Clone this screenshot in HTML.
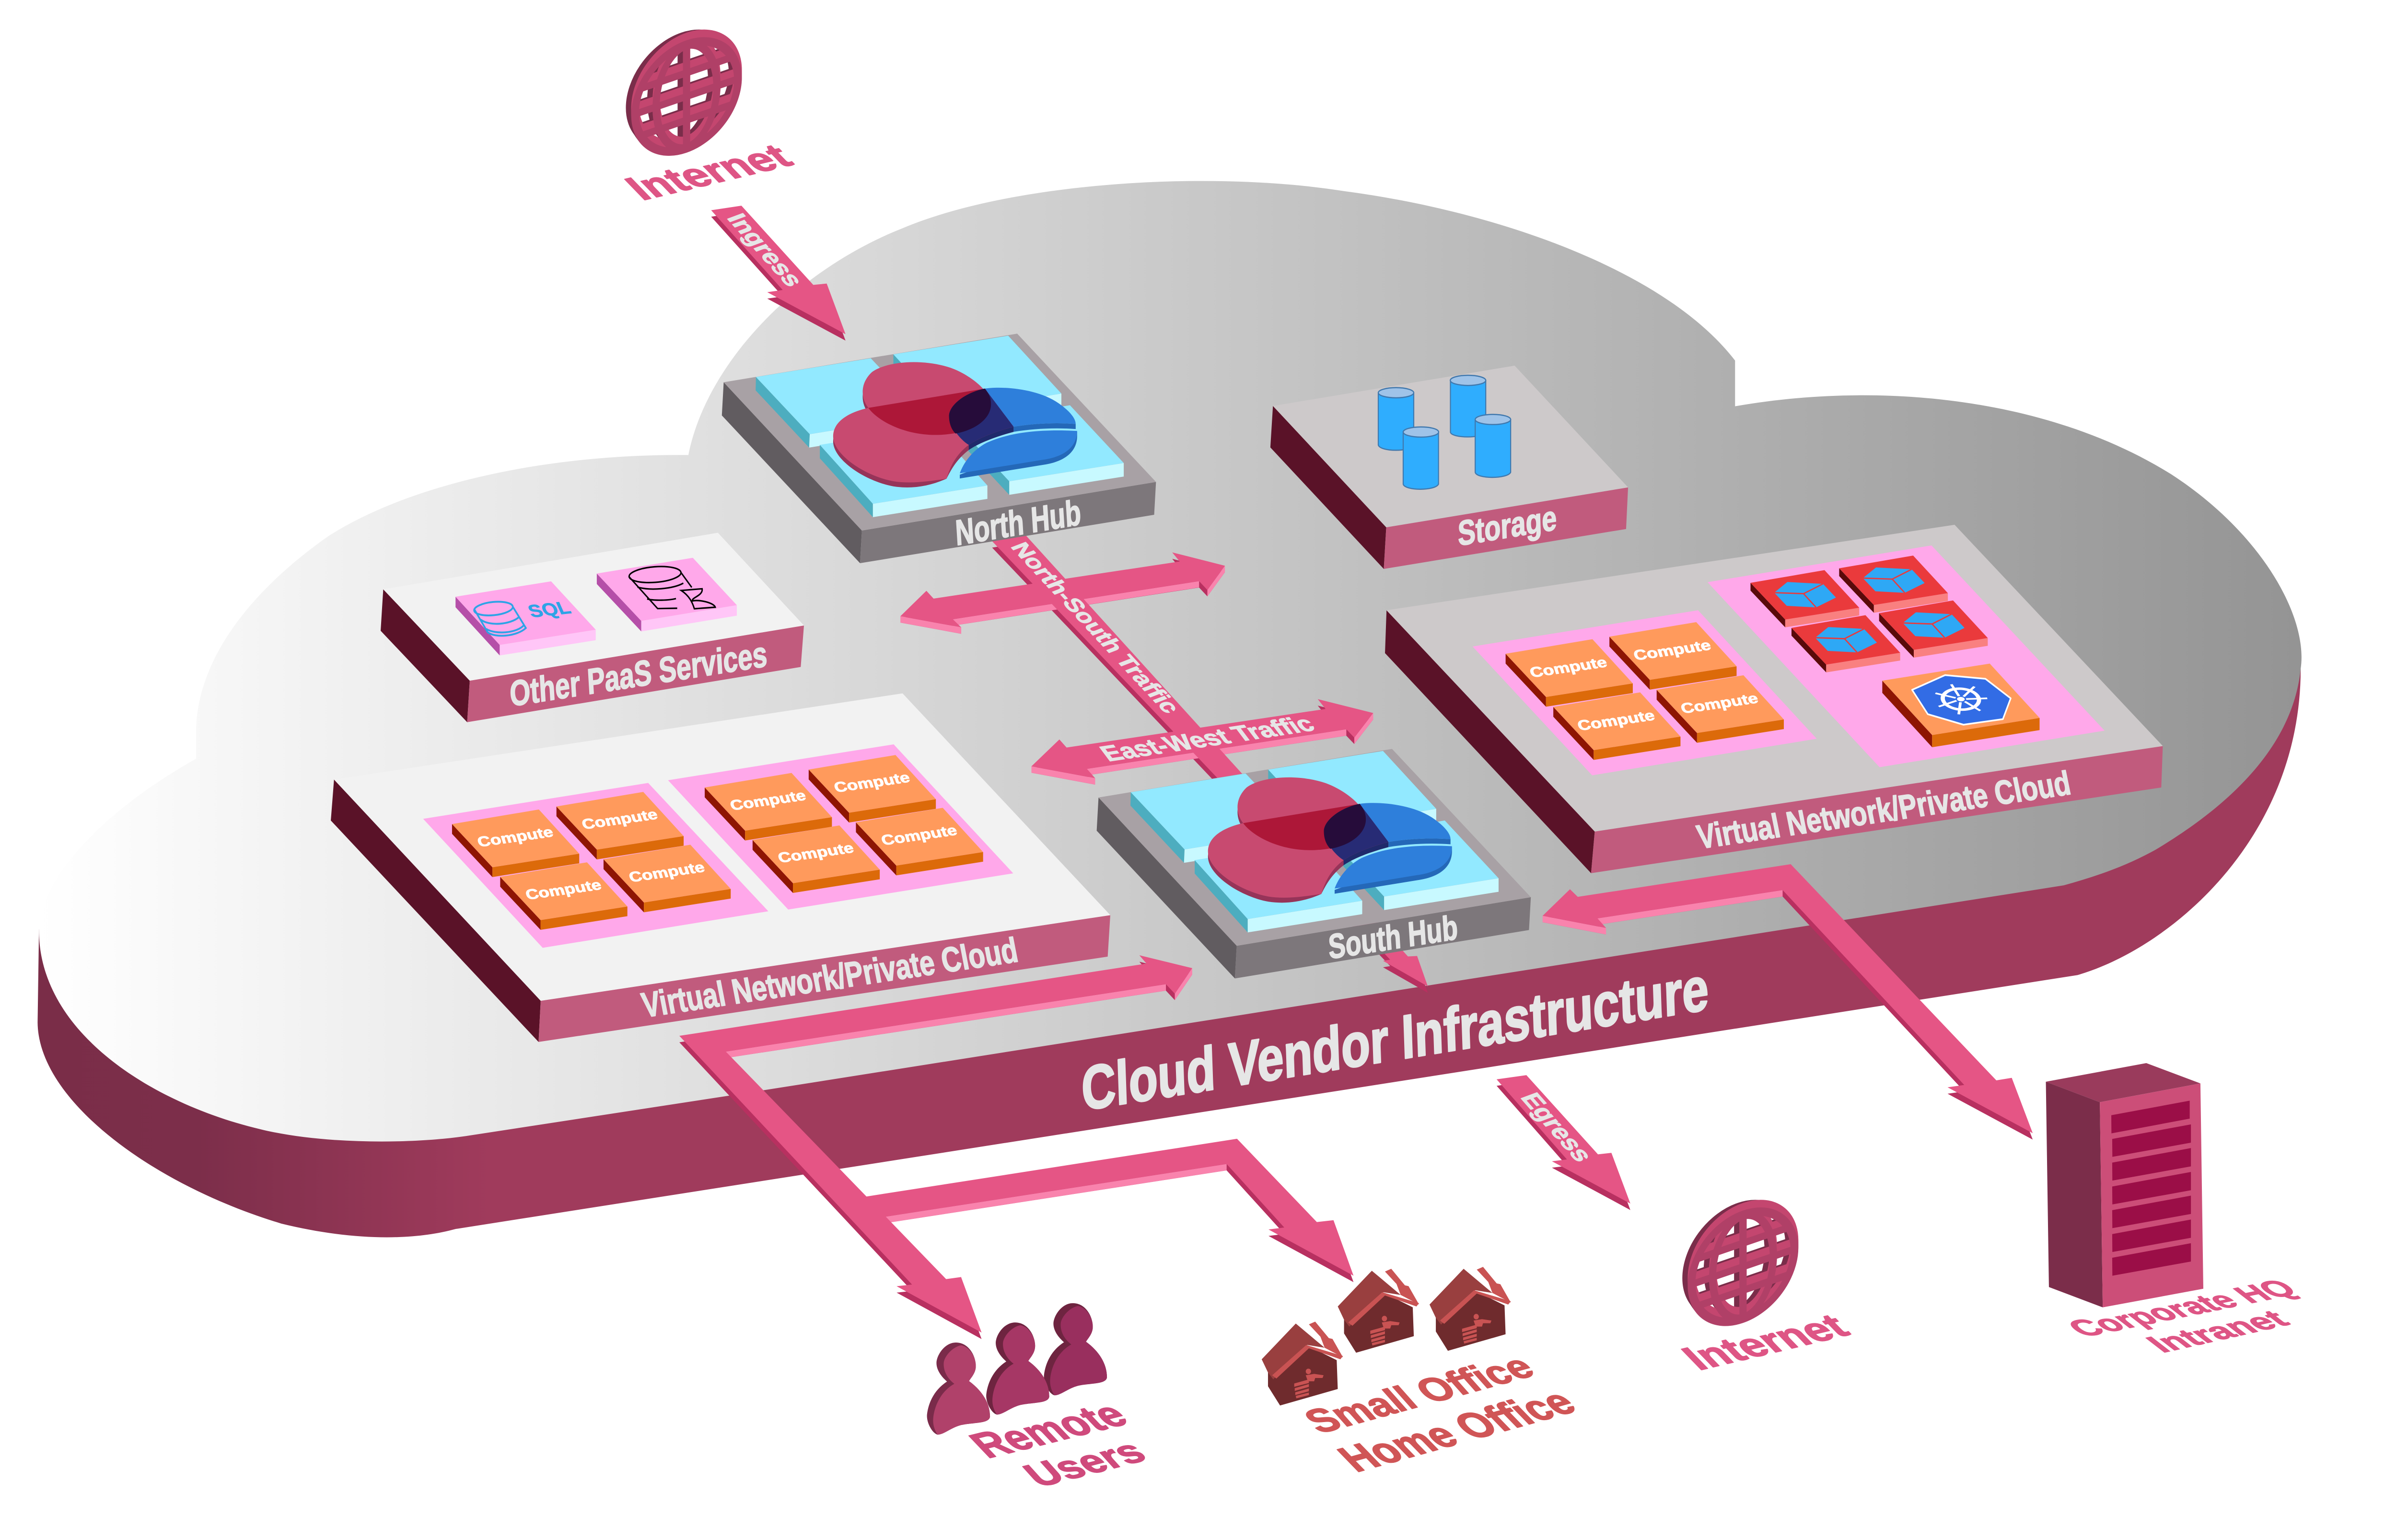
<!DOCTYPE html>
<html lang="en"><head><meta charset="utf-8"><title>Cloud Vendor Infrastructure</title>
<style>
html,body{margin:0;padding:0;background:#fff;width:100%;height:100%;overflow:hidden}
svg{display:block;position:fixed;left:0;top:0;width:100vw;height:100vh}
text{font-family:"Liberation Sans",sans-serif;font-weight:700;font-size:20px;fill:currentColor;stroke:currentColor;stroke-width:.55;stroke-linejoin:round}
.w{color:#e6e6e6}.c{color:#fff;stroke-width:.7}
</style></head><body>
<svg xmlns="http://www.w3.org/2000/svg" viewBox="0 0 1568 909.72" preserveAspectRatio="none">
<defs>
<linearGradient id="gt" gradientUnits="userSpaceOnUse" x1="25" y1="0" x2="1505" y2="0"><stop offset="0" stop-color="#fff"/><stop offset="1" stop-color="#949494"/></linearGradient>
<linearGradient id="gb" gradientUnits="userSpaceOnUse" x1="25" y1="0" x2="1505" y2="0"><stop offset="0" stop-color="#7a2d48"/><stop offset=".07" stop-color="#7c2e4a"/><stop offset=".2" stop-color="#a03b5c"/><stop offset="1" stop-color="#a03b5c"/></linearGradient>
<g id="ot"><polygon points="0,0 26.4,25.5 26.4,31.3 0,5.8" fill="#8e1503"/><polygon points="26.4,25.5 83.2,17.5 83.2,23.2 26.4,31.3" fill="#dc6a0a"/><polygon points="0,0 56.8,-8.6 83.2,17.5 26.4,25.5" fill="#ff9a5c"/></g>
<g id="rt"><polygon points="0,0 22.7,21.7 22.7,26.3 0,4.6" fill="#5a0a0a"/><polygon points="22.7,21.7 71.1,14.7 71.1,19.3 22.7,26.3" fill="#f98080"/><polygon points="0,0 48.4,-7.5 71.1,14.7 22.7,21.7" fill="#ea3a3c"/><polygon points="15.5,5.8 24.1,-.5 47.4,.6 55.9,8.7 42.9,14.5 23.7,13.6" fill="#2ea8f5"/><path d="M34.7,6.4L15.5,5.8M34.7,6.4L47.4,.6M34.7,6.4L42.9,14.5" stroke="#ea3a3c" stroke-width=".8" fill="none"/></g>
<g id="gl" transform="matrix(36.2,-11.2,0,33.2,0,0)" fill="none" stroke-width=".14"><circle r=".93"/><ellipse rx=".55" ry=".9" stroke-width=".13"/><path d="M0,-.9V.9M-.9,0H.9M-.82,-.42H.82M-.82,.42H.82" stroke-width=".13"/></g>
<g id="hub">
<polygon points="473.4,225.8 563.8,313.4 562.6,332.7 472.2,245.4" fill="#615c60"/>
<polygon points="563.8,313.4 756.2,284.7 755,304.1 562.6,332.7" fill="#7d777b"/>
<polygon points="473.4,225.8 665.4,197.1 756.2,284.7 563.8,313.4" fill="#a8a1a5"/>
<polygon points="494.5,222.7 529.7,256.5 529.3,264.4 494.3,230.6" fill="#4dadbf"/>
<polygon points="529.7,256.5 604.8,245.4 604.8,253.3 529.3,264.4" fill="#c8f9ff"/>
<polygon points="494.5,222.7 569.6,211.6 604.8,245.4 529.7,256.5" fill="#92e9ff"/>
<polygon points="584.4,209.3 619.2,243.5 619.2,251.4 584.4,217.2" fill="#4dadbf"/>
<polygon points="619.2,243.5 694.3,232.5 694.3,240.4 619.2,251.4" fill="#c8f9ff"/>
<polygon points="584.4,209.3 659.5,198.3 694.3,232.5 619.2,243.5" fill="#92e9ff"/>
<polygon points="536.3,262.8 571,297.6 571,305.5 536.3,270.7" fill="#4dadbf"/>
<polygon points="571,297.6 645.9,286.8 645.9,294.7 571,305.5" fill="#c8f9ff"/>
<polygon points="536.3,262.8 611.2,252 645.9,286.8 571,297.6" fill="#92e9ff"/>
<polygon points="625,250.2 660.2,284.3 660.2,292.3 625,258.2" fill="#4dadbf"/>
<polygon points="660.2,284.3 735.1,273.5 735.1,281.5 660.2,292.3" fill="#c8f9ff"/>
<polygon points="625,250.2 699.9,239.4 735.1,273.5 660.2,284.3" fill="#92e9ff"/>
<g transform="translate(453,169.9) scale(.2347,.1264)">
<g transform="translate(0,24)">
<path fill="#963459" d="M490,562 L815,472 L895,650 C850,670 800,700 770,735 C735,780 720,830 708,869 C660,905 610,918 560,905 C480,880 392,780 392,695 C392,630 430,585 490,562 Z"/>
<path fill="#963459" d="M490,562 C470,520 465,450 500,395 C540,345 640,330 720,375 L720,500 Z"/>
<path fill="#2468b8" d="M895,626 C950,611 1010,606 1068,613 L1068,637 C1010,630 950,635 895,650 Z"/>
<path fill="#1f2a6b" d="M895,626 C850,646 800,676 770,711 L770,735 C800,700 850,670 895,650Z"/>
<path fill="#2468b8" d="M1072,670 C1072,740 1040,790 975,805 L745,868 L745,850 L1072,650 Z"/>
</g>
<path fill="#c84a70" d="M490,562 L815,472 L895,650 C850,670 800,700 770,735 C735,780 720,830 708,893 C660,905 610,918 560,905 C480,880 392,780 392,695 C392,630 430,585 490,562 Z"/>
<path fill="#c84a70" d="M490,562 C470,520 465,450 500,395 C540,345 640,330 720,375 C770,405 830,480 832,545 C832,610 790,680 690,688 C600,695 520,630 490,562Z"/>
<path fill="#ad1738" d="M490,562 L815,472 C828,500 832,520 832,545 C832,610 790,680 690,688 C600,695 520,630 490,562Z"/>
<path fill="#2e7fdb" d="M815,472 C860,460 960,470 1020,540 C1050,575 1068,610 1068,637 C1010,630 950,635 895,650 Z"/>
<path fill="#272b75" d="M815,472 L895,650 C850,670 800,700 770,735 C750,715 720,660 715,600 C715,550 760,490 815,472Z"/>
<path fill="#260c3a" d="M815,472 C828,500 832,520 832,545 C832,610 790,665 733,682 C720,660 715,630 715,600 C715,550 760,490 815,472 Z"/>
<path fill="#2e7fdb" d="M1072,670 C960,660 880,680 820,725 C780,760 755,820 745,868 L975,805 C1040,790 1072,740 1072,670Z"/>
</g>
</g>
<polygon id="a1" points="465.2,124.2 485,121.5 532,168.3 540.8,167.5 553.1,197.4 501.9,172.6 512,171.3"/>
<polygon id="a2" points="979,637.6 998.5,635.1 1045.3,681.9 1054.1,681 1066.5,711 1015.2,686 1025,684.9"/>
<polygon id="a3" points="649,319.7 671.3,316.5 921,565 927,564.7 934,582.7 904.7,567.6 909.4,566.9"/>
<polygon id="a4" points="801.3,334.2 766.8,326.3 771.7,331.7 610.7,353.6 606,349 589,364 628.8,370.6 623.3,365.8 784.4,343.3 789.8,348.5"/>
<polygon id="a5" points="898.3,421.2 862,413 867.1,418.8 697.7,441.6 693,436.8 674.7,452.7 716.4,459.7 711,454.2 880.7,430.8 885.9,435.7"/>
<polygon id="a6" points="444.4,611.9 750,569.2 745.3,564.3 779.9,571.9 768.5,587 762.7,581.4 474.8,621.2 566.8,706.8 809.2,672.7 861.4,721.9 872.3,720.8 885.4,753.6 829.8,726.3 840.1,725.1 802.4,687.6 579.4,718.7 618.9,755.6 628.7,754.4 642.1,787.2 586.5,759.8 596.6,758.8"/>
<polygon id="a7" points="1171.4,510.5 1032.1,529.8 1027,525.3 1009.1,541 1050.6,548.2 1045,542.5 1166.1,525.8 1284.9,640.9 1274,642.3 1329.7,669.4 1316,636.7 1305.9,638.2"/>
<path id="pd" d="M395,730 C420,730 433,780 433,815 C433,840 425,855 420,870 C445,905 460,950 460,1000 C458,1025 430,1020 405,1030 C385,1040 372,1065 360,1065 C350,1060 338,1020 340,990 C343,945 355,900 378,872 C365,850 357,825 358,800 C360,770 375,730 395,730Z"/>
<path id="pf" d="M405,740 C420,745 433,780 433,815 C433,840 425,855 420,870 C445,905 460,950 460,1000 C458,1025 430,1020 405,1030 C385,1040 372,1065 360,1065 C355,1050 350,1030 352,1000 C355,955 368,905 392,880 C378,860 370,830 372,800 C375,775 390,745 405,740Z"/>
<g id="house">
<polygon points="912,790 985,690 1043,745 1045,850 935,910 912,840" fill="#6f2b2d"/>
<polygon points="900,742 965,612 1020,700 987,690 922,815 912,790" fill="#993f3f"/>
<polygon points="990,615 1002,605 1028,665 1035,668 1055,735 1020,700 1012,660" fill="#c95353"/>
<polygon points="985,690 1055,730 1050,742 990,702 928,812 920,800" fill="#c95353"/>
<polygon points="962,830 990,815 990,828 962,842" fill="#c95353"/>
<polygon points="963,847 990,832 990,842 963,857" fill="#c95353"/>
<polygon points="964,862 990,848 990,858 964,872" fill="#c95353"/>
<polygon points="965,875 990,863 990,872 966,884" fill="#c95353"/>
<polygon points="984,800 1000,795 1018,800 1016,810 1002,810 1000,822 988,822" fill="#c95353"/>
<ellipse cx="989" cy="786" rx="5" ry="10" fill="#c95353"/>
</g>
</defs>

<!-- Cloud body -->
<path fill="url(#gb)" d="M25.5,549 L24.6,604 C25,650 100,700 184,722.8 C230,733 270,733 298,726 L1359,576 C1420,560 1505,495 1505,395 Z"/>
<path fill="url(#gt)" d="M25.5,549 C27,515 75,475 128.3,448.2 L128.3,430 C130,385 170,345 215,316.6 C270,285 360,268 450.3,268.8 C462,215 520,160 590,135 C660,108 790,100 880,113 C980,125 1090,160 1135,213 L1135,240 C1230,225 1340,235 1420,280 C1480,315 1510,365 1505,395 C1500,440 1460,475 1410,502 C1390,512 1370,518 1350,523 L475.8,647.4 L307,670.8 C270,676 210,676 170,667 C100,652 25,610 25.5,549 Z"/>
<text class="w" transform="matrix(1,-.146,.07,1.82,708,656)" textLength="410" lengthAdjust="spacingAndGlyphs">Cloud Vendor Infrastructure</text>

<!-- PaaS platform -->
<polygon points="250.7,348.1 307.3,402.1 305.6,426.6 249,372.6" fill="#5a1228"/>
<polygon points="307.3,402.1 525.9,369.5 523.8,394 305.6,426.6" fill="#c15b7d"/>
<polygon points="250.7,348.1 469.6,314.7 525.9,369.5 307.3,402.1" fill="#f2f2f2"/>
<polygon points="298,352.5 326.9,381 326.9,387.2 298,358.7" fill="#b54fa8"/>
<polygon points="326.9,381 389.7,372 389.7,378.2 326.9,387.2" fill="#ffc6f7"/>
<polygon points="298,352.5 360.5,343.4 389.7,372 326.9,381" fill="#ffa8ea"/>
<polygon points="390.4,338.8 419.5,366.8 419.5,373 390.4,345" fill="#b54fa8"/>
<polygon points="419.5,366.8 482,357.5 482,363.7 419.5,373" fill="#ffc6f7"/>
<polygon points="390.4,338.8 453.2,329.5 482,357.5 419.5,366.8" fill="#ffa8ea"/>
<g fill="none" stroke="#2ea3e6" stroke-width="1.1">
<ellipse cx="322.8" cy="359.5" rx="12.7" ry="3.9" transform="rotate(-5 322.8 359.5)"/>
<path d="M310.3,360 L319,373.5 C324,377 338,376 344,371 L335.5,358.5"/>
<path d="M314.5,366 C320,370 334,369 339.5,364.5"/>
<path d="M318,371.5 C324,375 338,374 342.5,369.5"/>
</g>
<text style="color:#2ea3e6;stroke-width:.4" transform="matrix(1,-.1,.25,.51,347.8,364.8)" textLength="26.5" lengthAdjust="spacingAndGlyphs">SQL</text>
<g fill="none" stroke="#000" stroke-width=".9">
<ellipse cx="428.5" cy="339.4" rx="17" ry="4.6" transform="rotate(-4 428.5 339.4)"/>
<path d="M411.3,340.5 L430.2,359.5 L443,359.3"/>
<path d="M445.6,338.4 L452.5,347"/>
<path d="M417,346.8 C425,349 440,348 447,344.5"/>
<path d="M423.3,353.8 C428,355 438,354.6 442.2,353.6"/>
<path d="M445.6,348.8 L459.3,347.8 C460,352 452,353 453,355 C457,354 467,356 467.9,358.7 L454.2,359.6 C453,356 451,352 445.6,348.8Z"/>
</g>

<!-- Left VN -->
<polygon points="218.5,460.5 353.7,591.2 352.3,615.5 216.4,484.7" fill="#5a1228"/>
<polygon points="353.7,591.2 726.3,540.6 724.6,565.1 352.3,615.5" fill="#c15b7d"/>
<polygon points="218.5,460.5 590.4,409.6 726.3,540.6 353.7,591.2" fill="#f2f2f2"/>
<polygon points="276.8,483.7 424,462.5 502.6,538.3 355,559.9" fill="#ffa8ea"/>
<polygon points="437,460.9 584.6,439.7 662.8,515.9 515.6,537.3" fill="#ffa8ea"/>
<use href="#ot" x="295.7" y="486.8"/><use href="#ot" x="364" y="476.4"/><use href="#ot" x="327.2" y="518"/><use href="#ot" x="394.8" y="507.6"/>
<use href="#ot" x="461" y="465.2"/><use href="#ot" x="529" y="454.6"/><use href="#ot" x="492.3" y="496.2"/><use href="#ot" x="559.9" y="485.8"/>
<text class="c" transform="matrix(1,-.129,.145,.407,313.5,500.3)" textLength="49" lengthAdjust="spacingAndGlyphs">Compute</text>
<text class="c" transform="matrix(1,-.129,.145,.407,381.8,489.9)" textLength="49" lengthAdjust="spacingAndGlyphs">Compute</text>
<text class="c" transform="matrix(1,-.129,.145,.407,345,531.5)" textLength="49" lengthAdjust="spacingAndGlyphs">Compute</text>
<text class="c" transform="matrix(1,-.129,.145,.407,412.6,521.1)" textLength="49" lengthAdjust="spacingAndGlyphs">Compute</text>
<text class="c" transform="matrix(1,-.129,.145,.407,478.8,478.7)" textLength="49" lengthAdjust="spacingAndGlyphs">Compute</text>
<text class="c" transform="matrix(1,-.129,.145,.407,546.8,468.1)" textLength="49" lengthAdjust="spacingAndGlyphs">Compute</text>
<text class="c" transform="matrix(1,-.129,.145,.407,510.1,509.7)" textLength="49" lengthAdjust="spacingAndGlyphs">Compute</text>
<text class="c" transform="matrix(1,-.129,.145,.407,577.7,499.3)" textLength="49" lengthAdjust="spacingAndGlyphs">Compute</text>

<!-- Right VN -->
<polygon points="907,360.5 1043.2,491.2 1040.8,515.8 906,385.8" fill="#5a1228"/>
<polygon points="1043.2,491.2 1414.8,440.7 1413.8,465.2 1040.8,515.8" fill="#c15b7d"/>
<polygon points="907,360.5 1278.6,310 1414.8,440.7 1043.2,491.2" fill="#cdc9ca"/>
<polygon points="963.3,381.9 1110.8,360.5 1188.4,436.4 1041.5,458" fill="#ffa8ea"/>
<polygon points="1117,343.9 1263.5,322.2 1376.7,431.6 1229.5,453.2" fill="#ffa8ea"/>
<use href="#ot" x="984.9" y="386.2"/><use href="#ot" x="1052.8" y="376.1"/><use href="#ot" x="1016.1" y="417.6"/><use href="#ot" x="1083.7" y="407.5"/>
<text class="c" transform="matrix(1,-.13,.145,.407,1001.9,400.2)" textLength="50" lengthAdjust="spacingAndGlyphs">Compute</text>
<text class="c" transform="matrix(1,-.13,.145,.407,1069.8,390.1)" textLength="50" lengthAdjust="spacingAndGlyphs">Compute</text>
<text class="c" transform="matrix(1,-.13,.145,.407,1033.1,431.6)" textLength="50" lengthAdjust="spacingAndGlyphs">Compute</text>
<text class="c" transform="matrix(1,-.13,.145,.407,1100.7,421.5)" textLength="50" lengthAdjust="spacingAndGlyphs">Compute</text>
<use href="#rt" x="1145.1" y="344.3"/><use href="#rt" x="1203.1" y="335.7"/><use href="#rt" x="1171.9" y="370.9"/><use href="#rt" x="1229.2" y="362.2"/>
<polygon points="1231.3,402.1 1263.9,434.2 1263.9,441.4 1231.3,409.3" fill="#8e1503"/>
<polygon points="1263.9,434.2 1334.2,424.1 1334.2,431.3 1263.9,441.4" fill="#dc6a0a"/>
<polygon points="1231.3,402.1 1301.6,392 1334.2,424.1 1263.9,434.2" fill="#ff9a5c"/>
<polygon points="1272.4,398.8 1298.8,401 1315.3,412.5 1310.2,424.8 1284.4,428.1 1261.1,421.9 1250.8,407.5" fill="#326ce5" stroke="#fff" stroke-width="1" stroke-linejoin="round"/>
<g transform="matrix(13,-2,5,7,1282.7,413)" fill="none" stroke="#fff">
<circle r=".85" stroke-width=".2"/><circle r=".18" fill="#fff" stroke="none"/>
<path stroke-width=".13" d="M0,-.25V-1.25M.2,-.16L.98,-.78M.24,.06L1.22,.28M.11,.23L.54,1.13M-.11,.23L-.54,1.13M-.24,.06L-1.22,.28M-.2,-.16L-.98,-.78"/>
</g>

<!-- Storage -->
<polygon points="832.7,239.8 906.8,311.5 905.2,336.1 831,264.3" fill="#5a1228"/>
<polygon points="906.8,311.5 1065,287.9 1063.7,312.5 905.2,336.1" fill="#c15b7d"/>
<polygon points="832.7,239.8 990.8,216 1065,287.9 906.8,311.5" fill="#cdc9ca"/>
<g stroke="#4078ad" stroke-width=".7">
<path fill="#2fadfe" d="M901.6,232 V262.9 C903,267 923,267 924.8,262.9 V232Z"/><ellipse cx="913.2" cy="232" rx="11.6" ry="3" fill="#9fc3e8"/>
<path fill="#2fadfe" d="M948.8,224.7 V255.4 C950,259 970,259 971.9,255.4 V224.7Z"/><ellipse cx="960.3" cy="224.7" rx="11.6" ry="3" fill="#9fc3e8"/>
<path fill="#2fadfe" d="M917.9,255.2 V286 C919,290 939,290 941,286 V255.2Z"/><ellipse cx="929.5" cy="255.2" rx="11.6" ry="3" fill="#9fc3e8"/>
<path fill="#2fadfe" d="M965,247.8 V279 C966,283 986,283 988.2,279 V247.8Z"/><ellipse cx="976.6" cy="247.8" rx="11.6" ry="3" fill="#9fc3e8"/>
</g>

<!-- Arrows -->
<g fill="#b83060" transform="translate(0,3.8)">
<use href="#a1"/><use href="#a2"/><use href="#a3"/><use href="#a4"/><use href="#a5"/><use href="#a6"/><use href="#a7"/>
</g>
<g fill="#f983ad">
<polygon points="623.3,365.8 784.4,343.3 784.4,347 623.3,369.6"/><polygon points="589,364 628.8,370.6 628.8,374.4 589,367.8"/><polygon points="789.8,348.5 801.3,334.2 801.3,338 789.8,352.3"/>
<polygon points="711,454.2 880.7,430.8 880.7,434.6 711,458"/><polygon points="674.7,452.7 716.4,459.7 716.4,463.5 674.7,456.5"/><polygon points="885.9,435.7 898.3,421.2 898.3,425 885.9,439.5"/>
<polygon points="474.8,621.2 762.7,581.4 762.7,585.2 474.8,625"/><polygon points="768.5,587 779.9,571.9 779.9,575.7 768.5,590.8"/><polygon points="579.4,718.7 802.4,687.6 802.4,691.4 579.4,722.5"/>
<polygon points="1045,542.5 1166.1,525.8 1166.1,529.6 1045,546.3"/><polygon points="1009.1,541 1050.6,548.2 1050.6,552 1009.1,544.8"/>
</g>
<g fill="#e55585">
<use href="#a1"/><use href="#a2"/><use href="#a3"/><use href="#a4"/><use href="#a5"/><use href="#a6"/><use href="#a7"/>
</g>

<!-- Hubs -->
<use href="#hub"/>
<use href="#hub" transform="translate(245.2,245.3)"/>

<!-- Labels on shapes -->
<text class="w" transform="matrix(1,-.153,.073,1.054,625.5,322.2)" textLength="82" lengthAdjust="spacingAndGlyphs">North Hub</text>
<text class="w" transform="matrix(1,-.141,.073,1.02,869.5,566.5)" textLength="84.5" lengthAdjust="spacingAndGlyphs">South Hub</text>
<text class="w" transform="matrix(1,-.149,.036,1.03,953.9,322.4)" textLength="64.6" lengthAdjust="spacingAndGlyphs">Storage</text>
<text class="w" transform="matrix(1,-.142,.07,1.054,334,417.3)" textLength="168.2" lengthAdjust="spacingAndGlyphs">Other PaaS Services</text>
<text class="w" transform="matrix(1,-.135,.218,1.017,421.6,601)" textLength="245.3" lengthAdjust="spacingAndGlyphs">Virtual Network/Private Cloud</text>
<text class="w" transform="matrix(1,-.133,.218,.98,1111.9,501.4)" textLength="243.6" lengthAdjust="spacingAndGlyphs">Virtual Network/Private Cloud</text>
<text class="w" transform="matrix(1,1.01,-.734,.247,475.1,128.6)" textLength="41" lengthAdjust="spacingAndGlyphs">Ingress</text>
<text class="w" transform="matrix(1,1.024,-.763,.254,994.2,648.1)" textLength="38" lengthAdjust="spacingAndGlyphs">Egress</text>
<text class="w" transform="matrix(1,.97,-.69,.24,660.7,322.8)" textLength="102.3" lengthAdjust="spacingAndGlyphs">North-South Traffic</text>
<text class="w" transform="matrix(1,-.137,.509,.61,725.1,449.8)" textLength="136.2" lengthAdjust="spacingAndGlyphs">East-West Traffic</text>

<!-- Globes -->
<g stroke="#7a2d4a">
<use href="#gl" transform="translate(445.6,52.5)"/><use href="#gl" transform="translate(446.5,53.6)"/><use href="#gl" transform="translate(447.3,54.8)"/><use href="#gl" transform="translate(448.2,55.9)"/>
<use href="#gl" transform="translate(1136.7,743.8)"/><use href="#gl" transform="translate(1137.6,744.9)"/><use href="#gl" transform="translate(1138.4,746.1)"/><use href="#gl" transform="translate(1139.3,747.2)"/>
</g>
<g stroke="#c4466f">
<use href="#gl" transform="translate(449.1,52.5)"/><use href="#gl" transform="translate(449.1,53.6)"/><use href="#gl" transform="translate(449.1,54.8)"/><use href="#gl" transform="translate(449.1,55.9)"/>
<use href="#gl" transform="translate(1140.2,743.8)"/><use href="#gl" transform="translate(1140.2,744.9)"/><use href="#gl" transform="translate(1140.2,746.1)"/><use href="#gl" transform="translate(1140.2,747.2)"/>
</g>
<g stroke="#b04067">
<use href="#gl" transform="translate(449.1,57)"/>
<use href="#gl" transform="translate(1140.2,748.3)"/>
</g>
<text style="color:#de5585" transform="matrix(1,-.215,.952,.887,420,118.5)" textLength="100" lengthAdjust="spacingAndGlyphs">Internet</text>
<text style="color:#de5585" transform="matrix(1,-.215,.952,.887,1111.2,809.6)" textLength="100" lengthAdjust="spacingAndGlyphs">Internet</text>

<!-- Users and houses -->
<g transform="translate(566.3,651.2) scale(.3431,.1625)">
<g><use href="#pd" fill="#6e2440"/><use href="#pf" fill="#992f5e"/></g>
<g transform="translate(-110,70)"><use href="#pd" fill="#6e2440"/><use href="#pf" fill="#a63765"/></g>
<g transform="translate(-223,143)"><use href="#pd" fill="#7a2b4a"/><use href="#pf" fill="#b0416a"/></g>
<use href="#house"/>
<use href="#house" transform="translate(175,-7)"/>
<use href="#house" transform="translate(-145,192)"/>
</g>
<text style="color:#cf4a7c" transform="matrix(1,-.225,.996,.945,645.9,861.6)" textLength="93.7" lengthAdjust="spacingAndGlyphs">Remote</text>
<text style="color:#cf4a7c" transform="matrix(1,-.232,.872,.872,679.5,878.7)" textLength="72" lengthAdjust="spacingAndGlyphs">Users</text>
<text style="color:#d05556" transform="matrix(1,-.246,.872,.887,863.1,847)" textLength="142.4" lengthAdjust="spacingAndGlyphs">Small Office</text>
<text style="color:#d05556" transform="matrix(1,-.252,1.017,.945,887.1,869.8)" textLength="145.8" lengthAdjust="spacingAndGlyphs">Home Office</text>

<!-- Server -->
<polygon points="1338.3,639 1404,628 1439.4,640 1373.6,651.1" fill="#9a3b5c"/>
<polygon points="1338.3,639 1373.6,651.1 1375.5,772.3 1340.3,760.3" fill="#7b2d4a"/>
<polygon points="1373.6,651.1 1439.4,640 1441.3,761.3 1375.5,772.3" fill="#cc4e78"/>
<g fill="#9b0e47">
<polygon points="1381.1,658.8 1432.4,650.2 1432.4,660.8 1381.2,669.5"/>
<polygon points="1381.7,672.8 1433.2,664.2 1433.2,675 1381.8,683.4"/>
<polygon points="1381.7,686.8 1433.2,678.2 1433.2,689 1381.8,697.4"/>
<polygon points="1381.7,700.9 1433.2,692.3 1433.2,703.1 1381.8,711.5"/>
<polygon points="1381.7,714.9 1433.2,706.3 1433.2,717.1 1381.8,725.5"/>
<polygon points="1381.7,729 1433.2,720.4 1433.2,731.2 1381.8,739.6"/>
<polygon points="1381.7,743 1433.2,734.4 1433.2,745.2 1381.8,753.6"/>
</g>
<text style="color:#de5585" transform="matrix(1,-.184,.887,.618,1363,790)" textLength="141" lengthAdjust="spacingAndGlyphs">Corporate HQ</text>
<text style="color:#de5585" transform="matrix(1,-.202,.887,.618,1414.5,799.2)" textLength="84.2" lengthAdjust="spacingAndGlyphs">Intranet</text>
</svg>
</body></html>
